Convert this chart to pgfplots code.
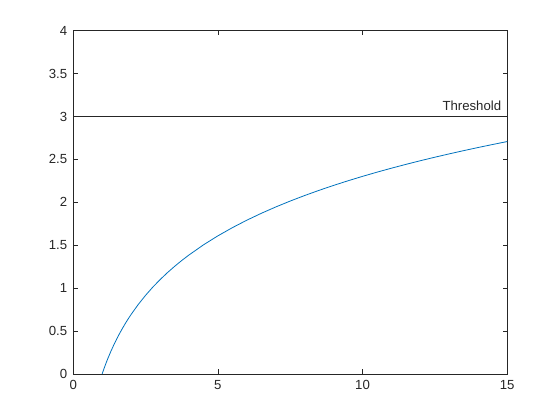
\documentclass[border=0pt]{standalone}
\usepackage{pgfplots}
\pgfplotsset{compat=1.18}
\usepackage{fontspec}
\setmainfont{Liberation Sans}
\definecolor{axgray}{rgb}{0.15,0.15,0.15}
\definecolor{mblue}{rgb}{0,0.447,0.741}
\begin{document}
\begin{tikzpicture}[x=1pt,y=1pt]
\path[use as bounding box] (0,0) rectangle (420,315);
\begin{axis}[
  at={(54.9pt,34.5pt)}, anchor=south west,
  scale only axis, width=325.5pt, height=257.5pt,
  xmin=0, xmax=15, ymin=0, ymax=4,
  xtick={0,5,10,15}, ytick={0,0.5,...,4},
  yticklabel style={/pgf/number format/fixed},
  tick align=inside, tickpos=both,
  major tick length=3.5pt,
  axis line style={axgray, line width=0.5pt},
  every tick/.style={axgray, line width=0.5pt},
  tick label style={font=\fontsize{9.9}{11}\selectfont, text=axgray},
  /pgf/number format/assume math mode=true,
  xticklabel shift=1pt, yticklabel shift=1pt,
  clip=false,
]
\addplot[mblue, line width=0.6pt] coordinates {
(1,0) (1.05,0.0488) (1.1,0.0953) (1.15,0.1398) (1.2,0.1823) (1.3,0.2624) (1.4,0.3365) (1.5,0.4055)
(1.6,0.4700) (1.7,0.5306) (1.8,0.5878) (1.9,0.6419) (2,0.6931) (2.25,0.8109)
(2.5,0.9163) (2.75,1.0116) (3,1.0986) (3.25,1.1787) (3.5,1.2528) (3.75,1.3218) (4,1.3863) (4.5,1.5041)
(5,1.6094) (5.5,1.7047) (6,1.7918) (6.5,1.8718) (7,1.9459) (7.5,2.0149)
(8,2.0794) (8.5,2.1401) (9,2.1972) (9.5,2.2513) (10,2.3026) (10.5,2.3514)
(11,2.3979) (11.5,2.4423) (12,2.4849) (12.5,2.5257) (13,2.5649) (13.5,2.6027)
(14,2.6391) (14.5,2.6741) (15,2.7081)
};
\addplot[axgray, line width=0.5pt] coordinates {(0,3) (15,3)};
\node[anchor=base east, inner sep=0pt, text=axgray, font=\fontsize{9.9}{11}\selectfont]
  at ([xshift=-4.3pt,yshift=4.4pt]axis cs:15,3) {Threshold};
\end{axis}
\end{tikzpicture}
\end{document}
